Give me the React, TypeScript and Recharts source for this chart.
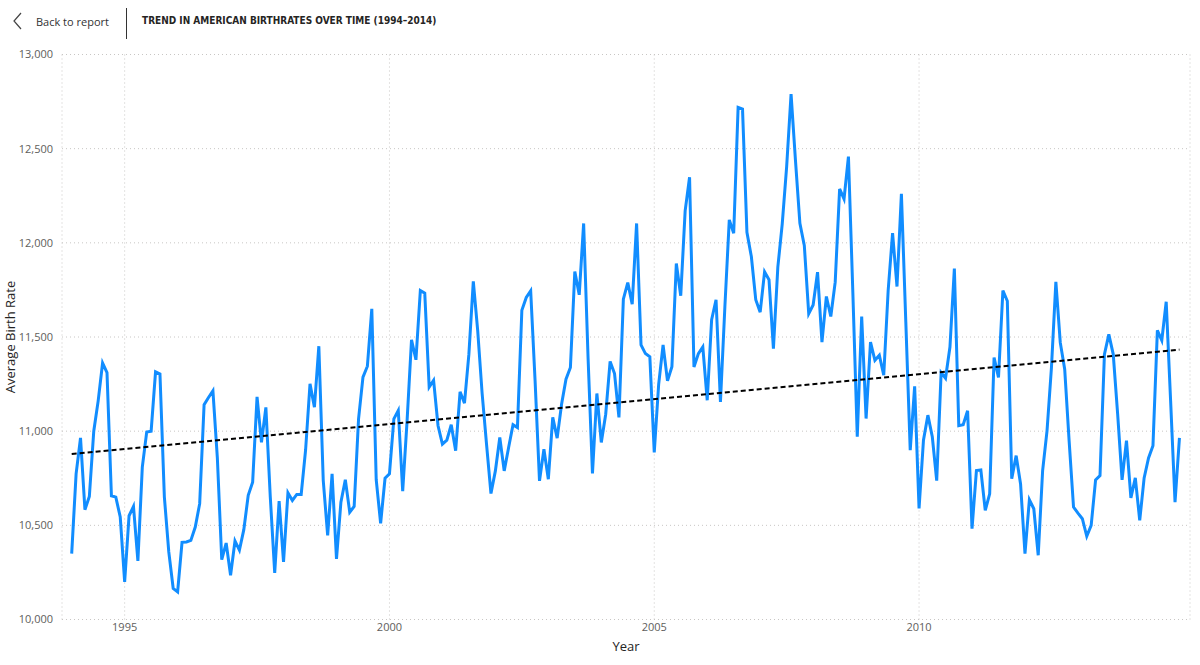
import { LineChart, Line, XAxis, YAxis, CartesianGrid, ReferenceLine, Label } from "recharts";

// monthly average birth rate, Jan 1994 .. Dec 2014 (one row per year)
const startYear = 1994;
const avgBirthRate: number[] = [
  10350, 10773, 10964, 10583, 10653, 11000, 11161, 11362, 11311, 10657, 10650, 10544, // 1994
  10200, 10551, 10600, 10311, 10809, 10996, 11000, 11315, 11304, 10650, 10359, 10165, // 1995
  10147, 10410, 10412, 10420, 10491, 10615, 11140, 11179, 11214, 10860, 10318, 10406, // 1996
  10235, 10417, 10368, 10477, 10659, 10729, 11182, 10941, 11126, 10650, 10248, 10629, // 1997
  10306, 10673, 10632, 10664, 10664, 10900, 11251, 11127, 11451, 10738, 10446, 10773, // 1998
  10322, 10623, 10742, 10570, 10600, 11065, 11287, 11345, 11650, 10742, 10511, 10750, // 1999
  10773, 11065, 11110, 10681, 11057, 11485, 11379, 11747, 11733, 11234, 11270, 11030, // 2000
  10931, 10952, 11034, 10896, 11209, 11149, 11409, 11795, 11533, 11200, 10930, 10669, // 2001
  10789, 10966, 10789, 10913, 11034, 11019, 11642, 11710, 11745, 11267, 10736, 10904, // 2002
  10745, 11073, 10963, 11143, 11276, 11338, 11848, 11724, 12103, 11391, 10775, 11200, // 2003
  10940, 11090, 11370, 11306, 11073, 11701, 11789, 11674, 12103, 11458, 11412, 11395, // 2004
  10887, 11249, 11458, 11267, 11342, 11890, 11719, 12170, 12348, 11341, 11412, 11447, // 2005
  11164, 11592, 11698, 11155, 11659, 12122, 12051, 12719, 12710, 12056, 11927, 11698, // 2006
  11632, 11846, 11804, 11438, 11871, 12101, 12405, 12790, 12436, 12104, 11986, 11624, // 2007
  11670, 11844, 11473, 11715, 11609, 11791, 12286, 12233, 12458, 11735, 10970, 11609, // 2008
  11067, 11473, 11376, 11403, 11297, 11747, 12051, 11768, 12260, 11580, 10899, 11238, // 2009
  10590, 10952, 11085, 10970, 10737, 11311, 11281, 11447, 11863, 11029, 11034, 11108, // 2010
  10482, 10791, 10794, 10579, 10667, 11391, 11285, 11747, 11691, 10747, 10870, 10720, // 2011
  10350, 10636, 10588, 10341, 10791, 11003, 11338, 11793, 11470, 11329, 10950, 10597, // 2012
  10565, 10535, 10442, 10500, 10741, 10764, 11408, 11514, 11408, 11091, 10741, 10950, // 2013
  10646, 10752, 10526, 10752, 10858, 10923, 11535, 11482, 11687, 11161, 10623, 10964, // 2014
];

const yearTicks = [1995, 2000, 2005, 2010];
const rateTicks = [10000, 10500, 11000, 11500, 12000, 12500, 13000];

// dashed trend line end points
const trendStart = 10879;
const trendEnd = 11433;

const data = avgBirthRate.map((rate, i) => ({ t: startYear + i / 12, rate }));
const lastT = startYear + (avgBirthRate.length - 1) / 12;

const tickStyle = { fill: "#605E5C", fontSize: 11, fontFamily: "'Segoe UI', 'Open Sans', sans-serif" };
const labelStyle = { fill: "#252423", fontSize: 13, fontFamily: "'Segoe UI', 'Open Sans', sans-serif" };

export default function App() {
  return (
    <div style={{ position: "absolute", left: 0, top: 0, width: 1200, height: 665, background: "#fff", overflow: "hidden" }}>
      <div style={{ position: "absolute", left: 0, top: 0, width: 1200, height: 44 }}>
        <svg width={20} height={20} style={{ position: "absolute", left: 9, top: 11 }}>
          <polyline points="12,2 5,10 12,18" fill="none" stroke="#444" strokeWidth={1.2} />
        </svg>
        <div
          style={{
            position: "absolute",
            left: 36,
            top: 14,
            fontSize: 11,
            color: "#333",
            fontFamily: "'Segoe UI', 'Open Sans', sans-serif",
          }}
        >
          Back to report
        </div>
        <div style={{ position: "absolute", left: 126, top: 8, width: 1, height: 31, background: "#333" }} />
        <div
          style={{
            position: "absolute",
            left: 142,
            top: 15,
            fontSize: 10,
            fontWeight: 700,
            color: "#252423",
            fontFamily: "'DejaVu Sans Condensed', 'Roboto', sans-serif",
          }}
        >
          TREND IN AMERICAN BIRTHRATES OVER TIME (1994–2014)
        </div>
      </div>

      <div style={{ position: "absolute", left: 0, top: 0 }}>
        <LineChart width={1200} height={665} data={data} margin={{ top: 54.5, right: 10, bottom: 15.5, left: 0 }}>
          <CartesianGrid stroke="#C8C6C4" strokeDasharray="1 3" />
          <XAxis
            type="number"
            dataKey="t"
            domain={[1993.817, 2015.116]}
            ticks={yearTicks}
            allowDataOverflow
            axisLine={false}
            tickLine={false}
            tickSize={2}
            tickMargin={2}
            height={30}
            tick={tickStyle}
          >
            <Label value="Year" position="insideBottom" offset={-1} style={labelStyle} />
          </XAxis>
          <YAxis
            domain={[10000, 13000]}
            ticks={rateTicks}
            width={62}
            axisLine={false}
            tickLine={false}
            tickSize={6}
            tickMargin={3}
            tick={tickStyle}
            tickFormatter={(v: number) => v.toLocaleString("en-US")}
          >
            <Label
              value="Average Birth Rate"
              angle={-90}
              position="insideLeft"
              offset={10}
              style={{ ...labelStyle, textAnchor: "middle" }}
            />
          </YAxis>
          <Line
            type="linear"
            dataKey="rate"
            stroke="#118DFF"
            strokeWidth={3}
            dot={false}
            activeDot={false}
            isAnimationActive={false}
          />
          <ReferenceLine
            segment={[
              { x: startYear, y: trendStart },
              { x: lastT, y: trendEnd },
            ]}
            stroke="#000"
            strokeWidth={2}
            strokeDasharray="5 3"
          />
        </LineChart>
      </div>
    </div>
  );
}
